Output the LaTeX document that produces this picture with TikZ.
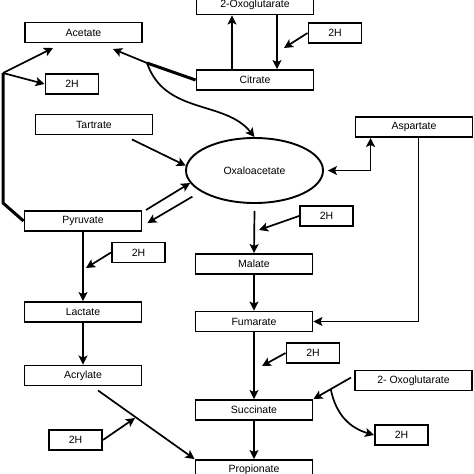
\documentclass[tikz,border=0pt]{standalone}
\usepackage{fontspec}
\setmainfont{Liberation Sans}
\usetikzlibrary{arrows.meta,shapes.geometric,calc}

\tikzset{
  metab/.style={draw, line width=1.9pt, minimum width=117pt, minimum height=20pt,
    inner sep=0pt, font=\fontsize{10.5}{12}\selectfont},
  hyd/.style={metab, minimum width=53pt},
  tip/.tip={Stealth[length=9pt,width=9pt,inset=2pt]},
  arr/.style={line width=1.7pt, -tip},
  heavy/.style={line width=3pt}
}

\begin{document}
\begin{tikzpicture}[x=1pt,y=-1pt]
  \useasboundingbox (0,0) rectangle (474,474);
  % metabolites
  \node[metab] (acetate) at (83.5,32.5) {Acetate};
  \node[hyd] (htwoA) at (72,84) {2H};
  \node[metab] (tartrate) at (94,124.5) {Tartrate};
  \node[metab] (oxotop) at (255,4.5) {2-Oxoglutarate};
  \node[hyd] (htwoB) at (335,33) {2H};
  \node[metab] (citrate) at (255,80) {Citrate};
  \node[metab] (aspartate) at (414,127) {Aspartate};
  \node[ellipse, draw, line width=1.9pt, minimum width=137pt, minimum height=65pt,
    font=\fontsize{10.5}{12}\selectfont] (oxalo) at (254.5,170.5) {Oxaloacetate};
  \node[metab] (pyruvate) at (83,221) {Pyruvate};
  \node[hyd] (htwoC) at (138.5,252.5) {2H};
  \node[hyd] (htwoD) at (326.5,216) {2H};
  \node[metab] (malate) at (254,264) {Malate};
  \node[metab] (lactate) at (83,312) {Lactate};
  \node[metab] (fumarate) at (254,321.5) {Fumarate};
  \node[metab] (acrylate) at (83,375.5) {Acrylate};
  \node[hyd] (htwoE) at (313,353) {2H};
  \node[metab] (oxoright) at (413.5,380.5) {2- Oxoglutarate};
  \node[metab] (succinate) at (254,410) {Succinate};
  \node[hyd] (htwoF) at (401.5,435) {2H};
  \node[hyd] (htwoG) at (75.5,440) {2H};
  \node[metab] (propionate) at (254,470) {Propionate};

  % free ends
  \coordinate (cleave) at (147,63);
  \coordinate (acetIn) at (113,49);
  \coordinate (pyrTop) at (3,73);
  \coordinate (pyrBot) at (3,203);
  \coordinate (acetLeft) at (53,48);
  \coordinate (hB) at (284,48);
  \coordinate (hC) at (86,268);
  \coordinate (hD) at (259,230);
  \coordinate (hE) at (262,366);
  \coordinate (hG) at (135,418);
  \coordinate (aspL) at ($(aspartate.south west)+(16,0)$);
  \coordinate (aspR) at ($(aspartate.south east)+(-55,0)$);
  \coordinate (oxoOut) at ($(oxoright.west)+(-3,-3)$);
  \coordinate (oxoSplit) at ($(oxoOut)!0.54!(succinate.north east)$);

  % citrate cycle top
  \draw[arr] ($(citrate.north)+(-23,0)$) -- ($(oxotop.south)+(-23,0)$);
  \draw[arr] ($(oxotop.south)+(22,0)$) -- ($(citrate.north)+(22,0)$);
  \draw[arr] (htwoB.west) -- (hB);
  \draw[heavy] (citrate.west) -- (cleave);
  \draw[arr] (cleave) -- (acetIn);
  \draw[arr] (cleave) .. controls (165,115) and (225,100) .. (oxalo.north);

  % pyruvate branch
  \draw[heavy] (pyruvate.west) -- (pyrBot) -- (pyrTop);
  \draw[arr] (pyrTop) -- (acetLeft);
  \draw[arr] (pyrTop) -- (htwoA.west);
  \draw[arr] ($(tartrate.south)+(38,4)$) -- (oxalo.176);
  \draw[arr] ($(pyruvate.east)+(3.5,-11)$) -- (oxalo.191);
  \draw[arr] ($(oxalo.203)+(-10,4)$) -- ($(pyruvate.east)+(5,2)$);
  \draw[arr] (pyruvate.south) -- (lactate.north);
  \draw[arr] (htwoC.west) -- (hC);
  \draw[arr] (lactate.south) -- (acrylate.north);
  \draw[arr] ($(acrylate.south)+(15,4)$) -- (propionate.north west);
  \draw[arr] (htwoG.east) -- (hG);

  % aspartate
  \draw[line width=1.7pt, tip-tip]
    ([xshift=4pt]oxalo.east) -- (oxalo.east -| aspL) -- (aspL);
  \draw[arr] (aspR) |- (fumarate.east);

  % reductive branch
  \draw[arr] ([yshift=-7pt]oxalo.south) -- (malate.north);
  \draw[arr] (htwoD.west) -- (hD);
  \draw[arr] (malate.south) -- (fumarate.north);
  \draw[arr] (fumarate.south) -- (succinate.north);
  \draw[arr] (htwoE.west) -- (hE);
  \draw[arr] (oxoOut) -- (succinate.north east);
  \draw[arr] (oxoSplit) .. controls (336,415) and (350,428) .. (htwoF.west);
  \draw[arr] (succinate.south) -- (propionate.north);
\end{tikzpicture}
\end{document}
